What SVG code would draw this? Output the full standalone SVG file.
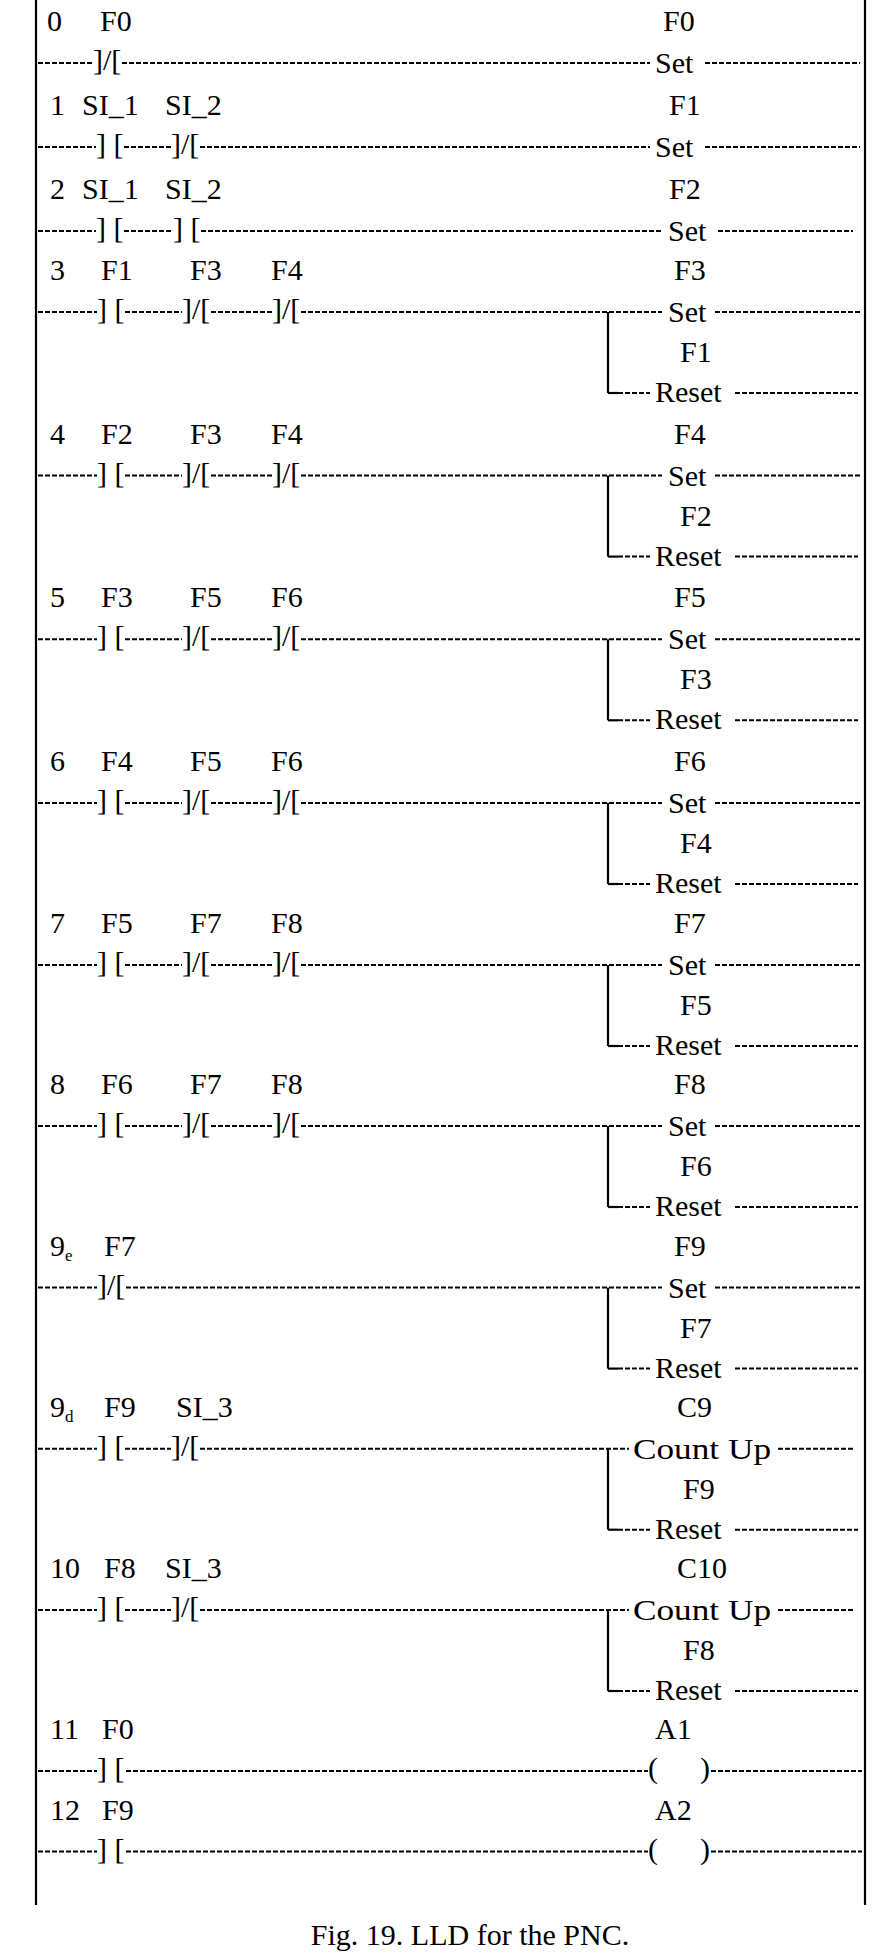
<svg xmlns="http://www.w3.org/2000/svg" width="873" height="1955" viewBox="0 0 873 1955">
<style>
text{font-family:"Liberation Serif","Times New Roman",serif;font-size:30px;fill:#000}
.c{font-size:30px}
.d{stroke:#000;stroke-width:2;stroke-dasharray:5 2;fill:none}
.s{stroke:#000;stroke-width:2.2;fill:none}
</style>
<defs>
<g id="br">
<line class="s" x1="608" y1="42" x2="608" y2="123"/>
<line class="s" x1="608" y1="123" x2="618" y2="123"/>
<line class="d" x1="618" y1="123" x2="650" y2="123"/>
<text x="655" y="132">Reset</text>
<line class="d" x1="735" y1="123" x2="858" y2="123"/>
</g>
<g id="c3">
<line class="d" x1="38" y1="42" x2="97" y2="42"/>
<text class="c" x="97" y="49">] [</text>
<line class="d" x1="125" y1="42" x2="182" y2="42"/>
<text class="c" x="182" y="49">]/[</text>
<line class="d" x1="211" y1="42" x2="272" y2="42"/>
<text class="c" x="272" y="49">]/[</text>
<line class="d" x1="301" y1="42" x2="662" y2="42"/>
<text x="668" y="52">Set</text>
<line class="d" x1="715" y1="42" x2="860" y2="42"/>
<use href="#br"/>
</g>
</defs>
<g id="rails">
<line class="s" x1="36" y1="0" x2="36" y2="1905"/>
<line class="s" x1="865" y1="0" x2="865" y2="1905"/>
</g>
<g id="rung0" transform="translate(0,21)">
<text x="47" y="10">0</text><text x="100" y="10">F0</text><text x="663" y="10">F0</text>
<line class="d" x1="38" y1="42" x2="93" y2="42"/>
<text class="c" x="93" y="49">]/[</text>
<line class="d" x1="122" y1="42" x2="650" y2="42"/>
<text x="655" y="52">Set</text>
<line class="d" x1="705" y1="42" x2="860" y2="42"/>
</g>
<g id="rung1" transform="translate(0,105)">
<text x="50" y="10">1</text><text x="82" y="10">SI_1</text><text x="165" y="10">SI_2</text><text x="669" y="10">F1</text>
<line class="d" x1="38" y1="42" x2="96" y2="42"/>
<text class="c" x="96" y="49">] [</text>
<line class="d" x1="124" y1="42" x2="171" y2="42"/>
<text class="c" x="171" y="49">]/[</text>
<line class="d" x1="200" y1="42" x2="650" y2="42"/>
<text x="655" y="52">Set</text>
<line class="d" x1="705" y1="42" x2="860" y2="42"/>
</g>
<g id="rung2" transform="translate(0,189)">
<text x="50" y="10">2</text><text x="82" y="10">SI_1</text><text x="165" y="10">SI_2</text><text x="669" y="10">F2</text>
<line class="d" x1="38" y1="42" x2="96" y2="42"/>
<text class="c" x="96" y="49">] [</text>
<line class="d" x1="124" y1="42" x2="173" y2="42"/>
<text class="c" x="173" y="49">] [</text>
<line class="d" x1="201" y1="42" x2="662" y2="42"/>
<text x="668" y="52">Set</text>
<line class="d" x1="718" y1="42" x2="853" y2="42"/>
</g>
<g id="rung3" transform="translate(0,270)">
<text x="50" y="10">3</text><text x="101" y="10">F1</text><text x="190" y="10">F3</text><text x="271" y="10">F4</text><text x="674" y="10">F3</text>
<use href="#c3"/><text x="680" y="92">F1</text>
</g>
<g id="rung4" transform="translate(0,433.6)">
<text x="50" y="10">4</text><text x="101" y="10">F2</text><text x="190" y="10">F3</text><text x="271" y="10">F4</text><text x="674" y="10">F4</text>
<use href="#c3"/><text x="680" y="92">F2</text>
</g>
<g id="rung5" transform="translate(0,597.3)">
<text x="50" y="10">5</text><text x="101" y="10">F3</text><text x="190" y="10">F5</text><text x="271" y="10">F6</text><text x="674" y="10">F5</text>
<use href="#c3"/><text x="680" y="92">F3</text>
</g>
<g id="rung6" transform="translate(0,761)">
<text x="50" y="10">6</text><text x="101" y="10">F4</text><text x="190" y="10">F5</text><text x="271" y="10">F6</text><text x="674" y="10">F6</text>
<use href="#c3"/><text x="680" y="92">F4</text>
</g>
<g id="rung7" transform="translate(0,923)">
<text x="50" y="10">7</text><text x="101" y="10">F5</text><text x="190" y="10">F7</text><text x="271" y="10">F8</text><text x="674" y="10">F7</text>
<use href="#c3"/><text x="680" y="92">F5</text>
</g>
<g id="rung8" transform="translate(0,1084)">
<text x="50" y="10">8</text><text x="101" y="10">F6</text><text x="190" y="10">F7</text><text x="271" y="10">F8</text><text x="674" y="10">F8</text>
<use href="#c3"/><text x="680" y="92">F6</text>
</g>
<g id="rung9e" transform="translate(0,1245.6)">
<text x="50" y="10">9<tspan font-size="17" dy="5">e</tspan></text><text x="104" y="10">F7</text><text x="674" y="10">F9</text>
<line class="d" x1="38" y1="42" x2="97" y2="42"/>
<text class="c" x="97" y="49">]/[</text>
<line class="d" x1="126" y1="42" x2="662" y2="42"/>
<text x="668" y="52">Set</text>
<line class="d" x1="715" y1="42" x2="860" y2="42"/>
<use href="#br"/><text x="680" y="92">F7</text>
</g>
<g id="rung9d" transform="translate(0,1406.7)">
<text x="50" y="10">9<tspan font-size="17" dy="5">d</tspan></text><text x="104" y="10">F9</text><text x="176" y="10">SI_3</text><text x="677" y="10">C9</text>
<line class="d" x1="38" y1="42" x2="97" y2="42"/>
<text class="c" x="97" y="49">] [</text>
<line class="d" x1="125" y1="42" x2="171" y2="42"/>
<text class="c" x="171" y="49">]/[</text>
<line class="d" x1="200" y1="42" x2="629" y2="42"/>
<text x="633" y="52" textLength="138" lengthAdjust="spacingAndGlyphs">Count Up</text>
<line class="d" x1="778" y1="42" x2="855" y2="42"/>
<use href="#br"/><text x="683" y="92">F9</text>
</g>
<g id="rung10" transform="translate(0,1568)">
<text x="50" y="10">10</text><text x="104" y="10">F8</text><text x="165" y="10">SI_3</text><text x="677" y="10">C10</text>
<line class="d" x1="38" y1="42" x2="97" y2="42"/>
<text class="c" x="97" y="49">] [</text>
<line class="d" x1="125" y1="42" x2="171" y2="42"/>
<text class="c" x="171" y="49">]/[</text>
<line class="d" x1="200" y1="42" x2="629" y2="42"/>
<text x="633" y="52" textLength="138" lengthAdjust="spacingAndGlyphs">Count Up</text>
<line class="d" x1="778" y1="42" x2="855" y2="42"/>
<use href="#br"/><text x="683" y="92">F8</text>
</g>
<g id="rung11" transform="translate(0,1729)">
<text x="50" y="10">11</text><text x="102" y="10">F0</text><text x="655" y="10">A1</text>
<line class="d" x1="38" y1="42" x2="97" y2="42"/>
<text class="c" x="97" y="49">] [</text>
<line class="d" x1="126" y1="42" x2="648" y2="42"/>
<text class="c" x="648" y="49">(</text><text class="c" x="700" y="49">)</text>
<line class="d" x1="711" y1="42" x2="862" y2="42"/>
</g>
<g id="rung12" transform="translate(0,1809.6)">
<text x="50" y="10">12</text><text x="102" y="10">F9</text><text x="655" y="10">A2</text>
<line class="d" x1="38" y1="42" x2="97" y2="42"/>
<text class="c" x="97" y="49">] [</text>
<line class="d" x1="126" y1="42" x2="648" y2="42"/>
<text class="c" x="648" y="49">(</text><text class="c" x="700" y="49">)</text>
<line class="d" x1="711" y1="42" x2="862" y2="42"/>
</g>
<text x="470" y="1945" text-anchor="middle">Fig. 19. LLD for the PNC.</text>
</svg>
